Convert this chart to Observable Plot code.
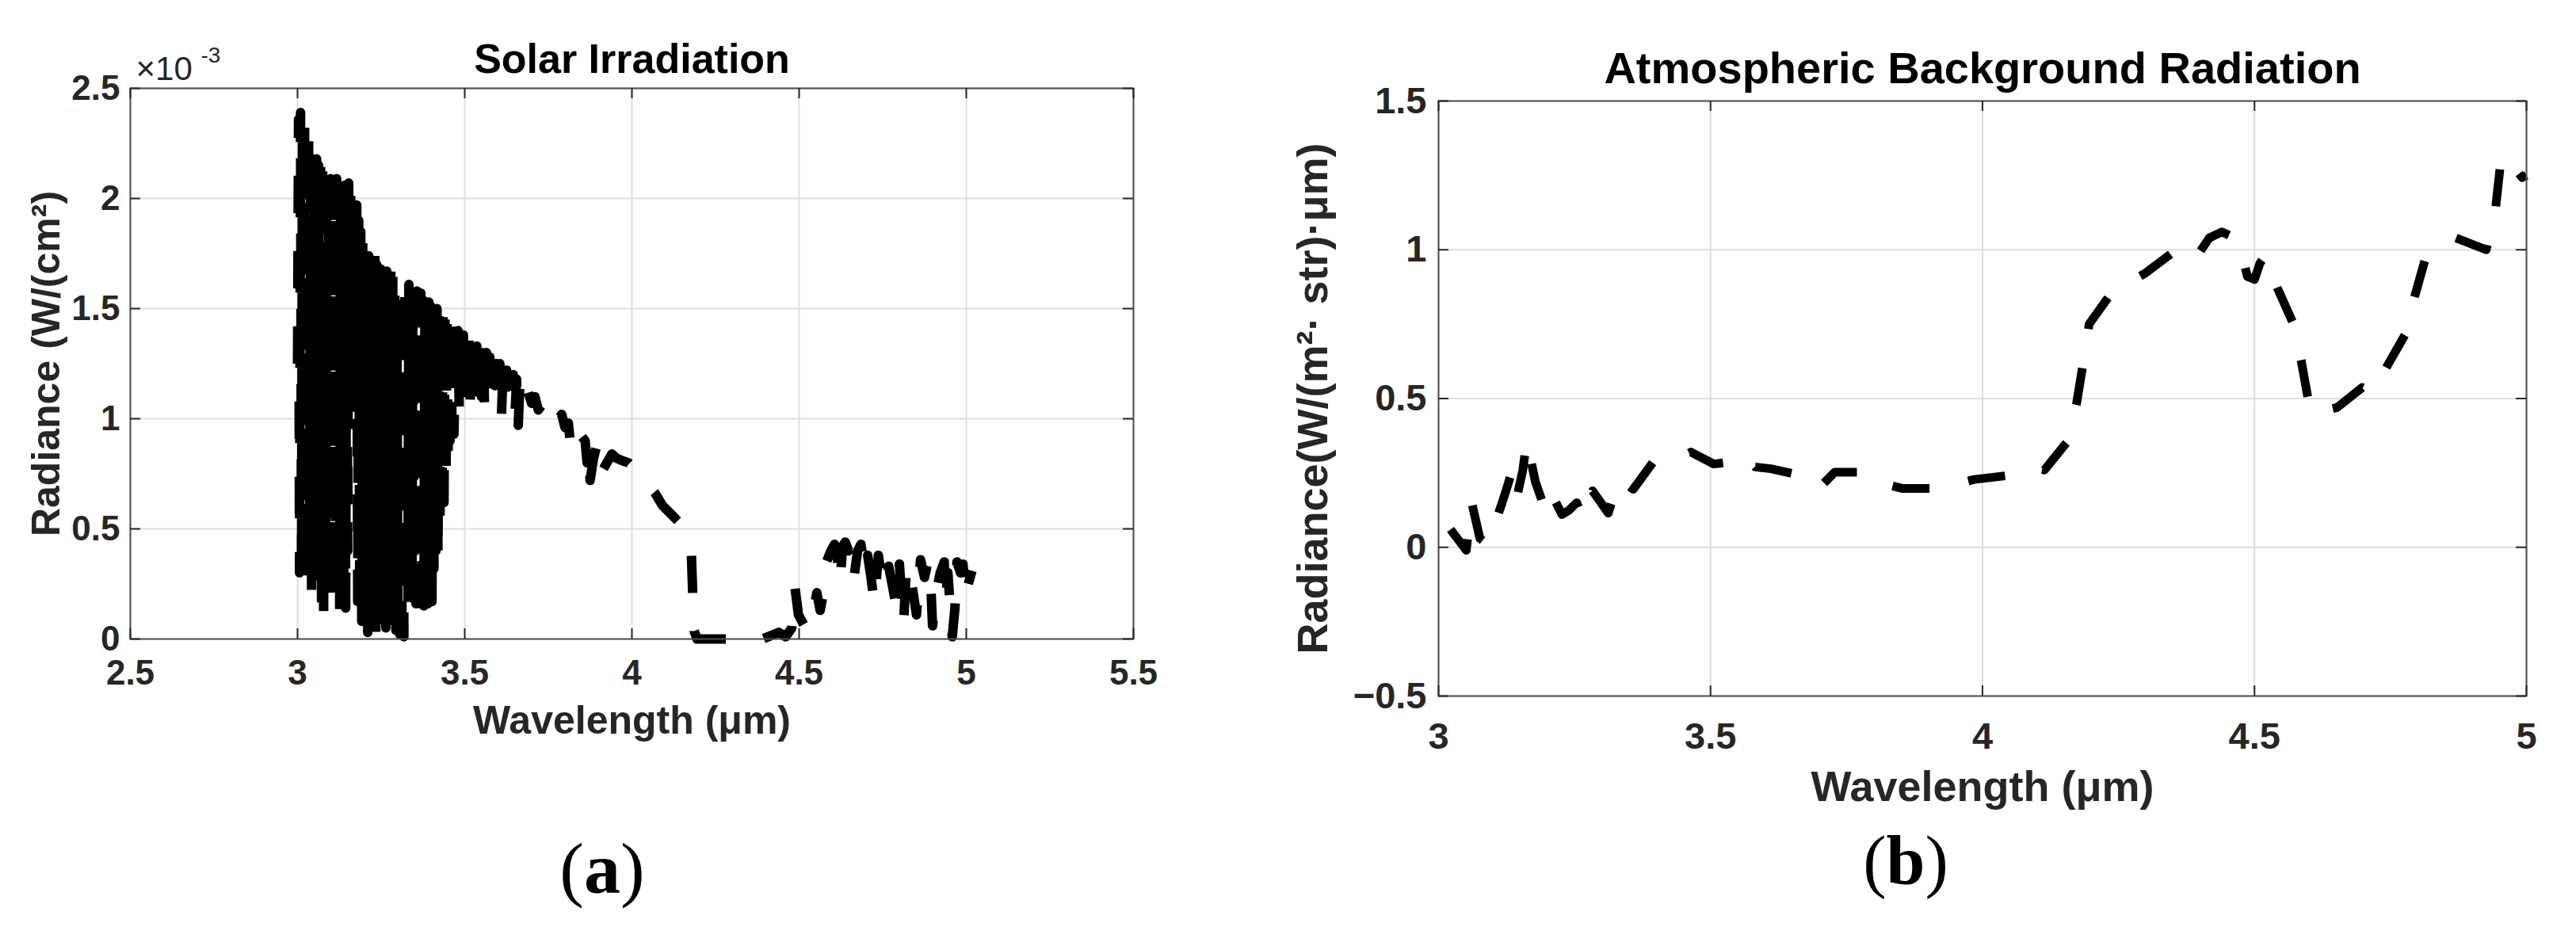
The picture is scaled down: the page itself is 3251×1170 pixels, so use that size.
<!DOCTYPE html>
<html><head><meta charset="utf-8">
<script src="https://cdn.jsdelivr.net/npm/d3@7"></script>
<script src="https://cdn.jsdelivr.net/npm/@observablehq/plot@0.6"></script>
<style>
html,body{margin:0;padding:0;background:#fff;}
#page{position:relative;width:3251px;height:1170px;overflow:hidden;background:#fff;font-family:"Liberation Sans",Arial,sans-serif;}
.panel{position:absolute;top:0;}
.sub{position:absolute;text-align:center;font-family:"Liberation Serif","Times New Roman",serif;line-height:1;color:#000;white-space:nowrap;}
.sub b{font-weight:bold;}
</style></head><body>
<div id="page">
  <div id="panelA" class="panel" style="left:0px"></div>
  <div id="panelB" class="panel" style="left:1600px"></div>
  <div class="sub" style="left:560px;top:1050px;width:400px;font-size:92px">(<b>a</b>)</div>
  <div class="sub" style="left:2205px;top:1043px;width:400px;font-size:88px">(<b>b</b>)</div>
</div>
<script>
// ---------- Panel (a): Solar Irradiation (radiance in units of 1e-3 W/cm^2) ----------
const solarWavelength = [
3.000,3.003,3.006,3.009,3.012,3.015,3.018,3.021,3.024,3.027,3.030,3.033,3.036,3.039,3.042,3.045,3.048,3.051,3.054,3.057,
3.060,3.063,3.066,3.069,3.072,3.075,3.078,3.081,3.084,3.087,3.090,3.093,3.096,3.099,3.102,3.105,3.108,3.111,3.114,3.117,
3.120,3.123,3.126,3.129,3.132,3.135,3.138,3.141,3.144,3.147,3.150,3.153,3.156,3.159,3.162,3.165,3.168,3.171,3.174,3.177,
3.180,3.183,3.186,3.189,3.192,3.195,3.198,3.201,3.204,3.207,3.210,3.213,3.216,3.219,3.222,3.225,3.228,3.231,3.234,3.237,
3.240,3.243,3.246,3.249,3.252,3.255,3.258,3.261,3.264,3.267,3.270,3.273,3.276,3.279,3.282,3.285,3.288,3.291,3.294,3.297,
3.300,3.303,3.306,3.309,3.312,3.315,3.318,3.321,3.324,3.327,3.330,3.333,3.336,3.339,3.342,3.345,3.348,3.351,3.354,3.357,
3.360,3.363,3.366,3.369,3.372,3.375,3.378,3.381,3.384,3.387,3.390,3.393,3.396,3.399,3.402,3.405,3.408,3.411,3.414,3.417,
3.420,3.423,3.426,3.429,3.432,3.435,3.438,3.441,3.444,3.447,3.450,3.453,3.456,3.459,3.462,3.465,3.468,3.472,3.476,3.480,
3.484,3.488,3.492,3.496,3.500,3.504,3.508,3.512,3.516,3.520,3.524,3.528,3.532,3.536,3.540,3.545,3.550,3.555,3.560,3.565,
3.570,3.575,3.580,3.585,3.590,3.595,3.600,3.605,3.610,3.615,3.620,3.625,3.630,3.635,3.640,3.645,3.650,3.655,3.660,3.665,
3.670,3.675,3.680,3.690,3.700,3.710,3.720,3.730,3.740,3.750,3.760,3.770,3.780,3.790,3.800,3.810,3.815,3.820,3.830,3.840,
3.850,3.860,3.866,3.870,3.875,3.885,3.897,3.910,3.925,3.940,3.955,3.970,3.990,4.010,4.028,4.048,4.068,4.092,4.115,4.139,
4.163,4.178,4.182,4.186,4.195,4.290,4.390,4.440,4.460,4.478,4.488,4.498,4.523,4.545,4.553,4.563,4.574,4.582,4.595,4.606,
4.615,4.622,4.630,4.638,4.648,4.655,4.665,4.675,4.685,4.697,4.705,4.715,4.725,4.737,4.747,4.756,4.768,4.778,4.788,4.800,
4.812,4.820,4.828,4.840,4.851,4.863,4.875,4.885,4.891,4.899,4.911,4.922,4.934,4.938,4.945,4.958,4.966,4.972,4.983,4.990,
5.000,5.006,5.017
];
const solarRadiance = [
1.25,2.36,0.30,2.39,0.28,2.37,0.25,2.33,0.30,2.30,0.26,2.33,0.40,2.20,0.22,2.18,0.35,2.17,0.25,2.18,
0.30,2.15,0.20,2.18,0.08,2.17,0.10,2.10,0.40,1.98,0.20,2.07,0.19,2.09,0.22,2.08,0.19,2.06,0.30,2.09,
0.20,2.05,0.13,2.07,0.25,2.02,0.12,2.06,0.14,2.04,0.40,2.07,1.10,2.05,1.05,2.00,1.08,1.95,1.05,1.97,
0.17,1.90,0.20,1.85,0.08,1.82,0.05,1.78,0.12,1.70,0.03,1.74,0.10,1.74,0.02,1.72,0.07,1.74,0.03,1.70,
0.12,1.73,0.05,1.68,0.09,1.69,0.14,1.65,0.05,1.67,0.10,1.63,0.06,1.70,0.15,1.66,0.08,1.58,0.04,1.50,
0.10,1.58,0.02,1.57,0.08,1.60,0.01,1.58,0.25,1.60,0.16,1.61,0.20,1.58,0.15,1.62,0.18,1.56,0.16,1.58,
0.22,1.55,0.16,1.57,0.20,1.54,0.15,1.55,0.25,1.52,0.16,1.53,0.30,1.51,0.17,1.50,0.32,1.49,0.40,1.50,
0.35,1.48,0.50,1.47,0.64,1.48,0.62,1.46,0.70,1.45,0.80,1.44,0.90,1.45,0.95,1.43,0.93,1.42,1.10,1.40,
1.00,1.41,1.15,1.38,1.12,1.39,1.20,1.38,1.05,1.35,1.02,1.34,1.20,1.33,1.15,1.33,1.10,1.31,1.02,1.30,
1.13,1.28,1.20,1.26,1.15,1.25,1.10,1.25,1.02,1.24,1.12,1.22,1.10,1.21,1.15,1.20,1.00,1.18,0.97,1.16,
1.12,1.15,1.10,1.12,1.07,1.10,1.04,1.06,1.03,1.05,1.01,1.03,1.00,1.02,0.96,0.98,0.90,0.97,0.95,0.96,
0.92,0.90,0.80,0.88,0.72,0.82,0.89,0.76,0.80,0.84,0.82,0.81,0.80,0.77,0.74,0.70,0.665,0.605,0.57,0.533,
0.473,0.378,0.197,0.036,0.00,0.00,0.00,0.03,0.01,0.05,0.23,0.11,0.04,0.14,0.21,0.13,0.22,0.35,0.40,0.43,
0.36,0.25,0.42,0.44,0.40,0.43,0.29,0.40,0.43,0.30,0.38,0.28,0.16,0.38,0.28,0.23,0.33,0.25,0.17,0.34,
0.06,0.30,0.34,0.22,0.11,0.36,0.28,0.35,0.35,0.06,0.22,0.30,0.35,0.17,0.30,0.01,0.14,0.35,0.30,0.34,
0.18,0.25,0.31
];
const solarXTicks = [2.5, 3, 3.5, 4, 4.5, 5, 5.5];
const solarYTicks = [0, 0.5, 1, 1.5, 2, 2.5];

// ---------- Panel (b): Atmospheric Background Radiation ----------
const atmWavelength = [
3.022,3.051,3.061,3.076,3.090,3.116,3.124,3.134,3.143,3.155,3.162,3.178,3.201,3.214,3.227,3.240,3.254,3.264,3.283,3.312,
3.331,3.358,3.400,3.448,3.464,3.506,3.546,3.562,3.582,3.611,3.670,3.699,3.728,3.787,3.813,3.852,3.917,3.985,4.041,4.067,
4.087,4.114,4.158,4.173,4.186,4.196,4.239,4.298,4.361,4.391,4.417,4.440,4.470,4.487,4.500,4.510,4.520,4.540,4.570,4.586,
4.600,4.603,4.652,4.698,4.718,4.741,4.777,4.794,4.814,4.870,4.926,4.943,4.952,4.959,4.992,5.000
];
const atmRadiance = [
0.06,-0.01,0.15,0.03,0.01,0.145,0.19,0.25,0.16,0.26,0.36,0.22,0.10,0.157,0.11,0.125,0.15,0.10,0.19,0.115,
0.23,0.195,0.30,0.305,0.32,0.28,0.288,0.311,0.27,0.264,0.24,0.198,0.252,0.252,0.216,0.198,0.198,0.228,0.24,0.245,
0.27,0.26,0.36,0.484,0.63,0.75,0.86,0.92,1.006,0.97,1.04,1.06,1.035,0.91,0.90,0.955,0.98,0.88,0.757,0.626,
0.484,0.45,0.47,0.537,0.52,0.60,0.715,0.84,0.97,1.04,1.00,1.136,1.285,1.32,1.243,1.25
];
const atmXTicks = [3, 3.5, 4, 4.5, 5];
const atmYTicks = [-0.5, 0, 0.5, 1, 1.5];

// ---------- shared styling ----------
const fmt = d => (d < 0 ? "\u2212" : "") + String(Math.abs(d));
const FONT = '"Liberation Sans", Arial, Helvetica, sans-serif';
const GRID = "#dedede", FRAME = "#4d4d4d", TICK = "#262626", LABEL = "#262626";
const TICKLEN = 13;

function panel(cfg) {
  const innerW = cfg.width - cfg.ml - cfg.mr;
  const innerH = cfg.height - cfg.mt - cfg.mb;
  const rows = cfg.xs.map((w, i) => ({w, r: cfg.ys[i]}));
  const marks = [
    Plot.gridX(cfg.xTicks, {stroke: GRID, strokeOpacity: 1, strokeWidth: 2}),
    Plot.gridY(cfg.yTicks, {stroke: GRID, strokeOpacity: 1, strokeWidth: 2}),
    Plot.line(rows, {x: "w", y: "r", stroke: "black", strokeWidth: cfg.lineWidth,
      strokeDasharray: cfg.dash, strokeLinejoin: "round", strokeLinecap: "butt", curve: "linear"}),
    Plot.frame({stroke: FRAME, strokeWidth: 2}),
    Plot.tickX(cfg.xTicks, {x: d => d, insetTop: innerH - TICKLEN, stroke: TICK, strokeWidth: 2}),
    Plot.tickX(cfg.xTicks, {x: d => d, insetBottom: innerH - TICKLEN, stroke: TICK, strokeWidth: 2}),
    Plot.tickY(cfg.yTicks, {y: d => d, insetRight: innerW - TICKLEN, stroke: TICK, strokeWidth: 2}),
    Plot.tickY(cfg.yTicks, {y: d => d, insetLeft: innerW - TICKLEN, stroke: TICK, strokeWidth: 2}),
    Plot.axisX(cfg.xTicks, {anchor: "bottom", tickSize: 0, tickPadding: cfg.xPad, tickFormat: fmt,
      fontSize: cfg.tickFont, fontWeight: "bold", fill: LABEL, label: null}),
    Plot.axisY(cfg.yTicks, {anchor: "left", tickSize: 0, tickPadding: cfg.yPad, tickFormat: fmt,
      fontSize: cfg.tickFont, fontWeight: "bold", fill: LABEL, label: null}),
    Plot.text([cfg.title], {text: d => d, frameAnchor: "top", textAnchor: "middle", lineAnchor: "middle", dy: cfg.titleDy,
      fontSize: cfg.titleFont, fontWeight: "bold", fill: "black"}),
    Plot.text([cfg.xLabel], {text: d => d, frameAnchor: "bottom", textAnchor: "middle", lineAnchor: "middle", dy: cfg.xLabelDy,
      fontSize: cfg.labelFont, fontWeight: "bold", fill: LABEL}),
    Plot.text([cfg.yLabel], {text: d => d, frameAnchor: "left", textAnchor: "middle", lineAnchor: "middle", rotate: -90, dx: cfg.yLabelDx,
      fontSize: cfg.labelFont, fontWeight: "bold", fill: LABEL}),
    ...(cfg.extra || [])
  ];
  return Plot.plot({
    width: cfg.width, height: cfg.height,
    marginLeft: cfg.ml, marginRight: cfg.mr, marginTop: cfg.mt, marginBottom: cfg.mb,
    style: {background: "white", fontFamily: FONT, color: TICK, overflow: "visible"},
    x: {domain: cfg.xDomain, nice: false},
    y: {domain: cfg.yDomain, nice: false},
    marks
  });
}

const chartA = panel({
  width: 1600, height: 1170, ml: 164, mr: 170, mt: 111, mb: 364,
  xs: solarWavelength, ys: solarRadiance, xTicks: solarXTicks, yTicks: solarYTicks,
  xDomain: [2.5, 5.5], yDomain: [0, 2.5],
  lineWidth: 12, dash: "47,48",
  tickFont: 44, xPad: 26, yPad: 13,
  title: "Solar Irradiation", titleFont: 52, titleDy: -36,
  xLabel: "Wavelength (\u03BCm)", xLabelDy: 103,
  yLabel: "Radiance (W/(cm\u00B2)", yLabelDx: -106, labelFont: 50,
  extra: [
    Plot.text(["\u00D710"], {text: d => d, frameAnchor: "top-left", textAnchor: "start", lineAnchor: "middle",
      dx: 7, dy: -24, fontSize: 42, fill: LABEL}),
    Plot.text(["-3"], {text: d => d, frameAnchor: "top-left", textAnchor: "start", lineAnchor: "middle",
      dx: 89, dy: -41, fontSize: 28, fill: LABEL})
  ]
});
document.getElementById("panelA").appendChild(chartA);

const chartB = panel({
  width: 1651, height: 1170, ml: 215, mr: 63, mt: 127, mb: 292,
  xs: atmWavelength, ys: atmRadiance, xTicks: atmXTicks, yTicks: atmYTicks,
  xDomain: [3, 5], yDomain: [-0.5, 1.5],
  lineWidth: 11, dash: "47,50",
  tickFont: 47, xPad: 33, yPad: 15,
  title: "Atmospheric Background Radiation", titleFont: 56, titleDy: -40,
  xLabel: "Wavelength (\u03BCm)", xLabelDy: 115,
  yLabel: "Radiance(W/(m\u00B2\u00B7 str)\u00B7\u03BCm)", yLabelDx: -158, labelFont: 54
});
document.getElementById("panelB").appendChild(chartB);
</script>
</body></html>
